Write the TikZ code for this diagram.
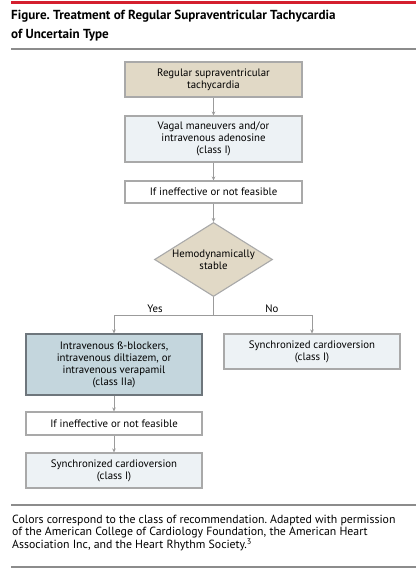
\documentclass[tikz,border=0pt]{standalone}
\usepackage{fontspec}
\setmainfont{PT Sans}
\usetikzlibrary{shapes}
\usetikzlibrary{shapes.geometric}
\usetikzlibrary{arrows.meta}
\usetikzlibrary{positioning}
\frenchspacing

\definecolor{jamared}{HTML}{D41F2E}
\definecolor{rulegray}{HTML}{8C8C8C}
\definecolor{linegray}{HTML}{9B9B9B}
\definecolor{boxgray}{HTML}{A9A9A9}
\definecolor{tan}{HTML}{E1D9C6}
\definecolor{classone}{HTML}{EDF2F5}
\definecolor{classtwo}{HTML}{C4D6DD}

\begin{document}
\begin{tikzpicture}[x=1pt, y=-1pt,
        box/.style={draw=boxgray, line width=1.1pt, inner sep=0pt, align=center,
            font=\fontsize{10.8}{12}\selectfont},
        arr/.style={draw=linegray, line width=0.9pt, -{Stealth[length=4pt, width=3.6pt]}}]
        \useasboundingbox (0, 0) rectangle (416, 569);

        % header
        \draw [jamared, line width=3pt] (11, 3) -- (416, 3);
        \node [anchor=base west, inner sep=0pt, font=\fontsize{13.1}{19}\selectfont\bfseries] (title1) at (11, 19.8) {Figure. Treatment of Regular Supraventricular Tachycardia};
        \node [anchor=base west, inner sep=0pt, font=\fontsize{13.1}{19}\selectfont\bfseries] (title2) at (11, 38.8) {of Uncertain Type};
        \draw [rulegray, line width=2pt] (11, 49) -- (416, 49);

        % flowchart
        \node [box, fill=tan, minimum width=177pt, minimum height=35pt] (svt) at (213.5, 79.5) {Regular supraventricular\\tachycardia};
        \node [box, fill=classone, minimum width=177pt, minimum height=46pt] (vagal) at (213.5, 139) {Vagal maneuvers and/or\\intravenous adenosine\\(class I)};
        \node [box, fill=white, minimum width=177pt, minimum height=22pt] (ineffa) at (213.5, 192) {If ineffective or not feasible};
        \node [draw=boxgray, line width=1.1pt, fill=tan, diamond, aspect=1.6, inner sep=0pt,
            minimum width=118pt, minimum height=74pt, align=center,
            font=\fontsize{10.8}{12}\selectfont] (stable) at (213.5, 259.5) {Hemodynamically\\stable};

        \draw [arr] (svt) -- (vagal);
        \draw [arr] (vagal) -- (ineffa);
        \draw [arr] (ineffa) -- (stable);

        \coordinate (split) at (213.5, 315);
        \node [box, draw=none] (yes) at (155, 309) {Yes};
        \node [box, draw=none] (no) at (272, 309) {No};

        \node [box, draw={rgb,255:red,110;green,118;blue,124}, fill=classtwo, minimum width=176pt, minimum height=61pt] (drugs) at (114, 364.5) {Intravenous ß-blockers,\\intravenous diltiazem, or\\intravenous verapamil\\(class IIa)};
        \node [box, fill=classone, minimum width=176pt, minimum height=35pt] (cardio) at (312, 351.5) {Synchronized cardioversion\\(class I)};
        \node [box, fill=white, minimum width=176pt, minimum height=23pt] (ineffb) at (114, 423.5) {If ineffective or not feasible};
        \node [box, fill=classone, minimum width=176pt, minimum height=35pt] (cardiob) at (114, 470.5) {Synchronized cardioversion\\(class I)};

        \draw [draw=linegray, line width=0.9pt] (stable.south) -- (split);
        \draw [arr] (split) -| (drugs.north);
        \draw [arr] (split) -| (cardio.north);
        \draw [arr] (drugs) -- (ineffb);
        \draw [arr] (ineffb) -- (cardiob);

        % footer
        \draw [rulegray, line width=2pt] (11, 505) -- (416, 505);
        \node [anchor=north west, inner sep=0pt, align=left, font=\fontsize{11.8}{12}\selectfont] (note) at (12, 514.5) {Colors correspond to the class of recommendation. Adapted with permission\\of the American College of Cardiology Foundation, the American Heart\\Association Inc, and the Heart Rhythm Society.\textsuperscript{3}};
        \draw [rulegray, line width=2pt] (11, 567) -- (416, 567);
    \end{tikzpicture}
\end{document}
